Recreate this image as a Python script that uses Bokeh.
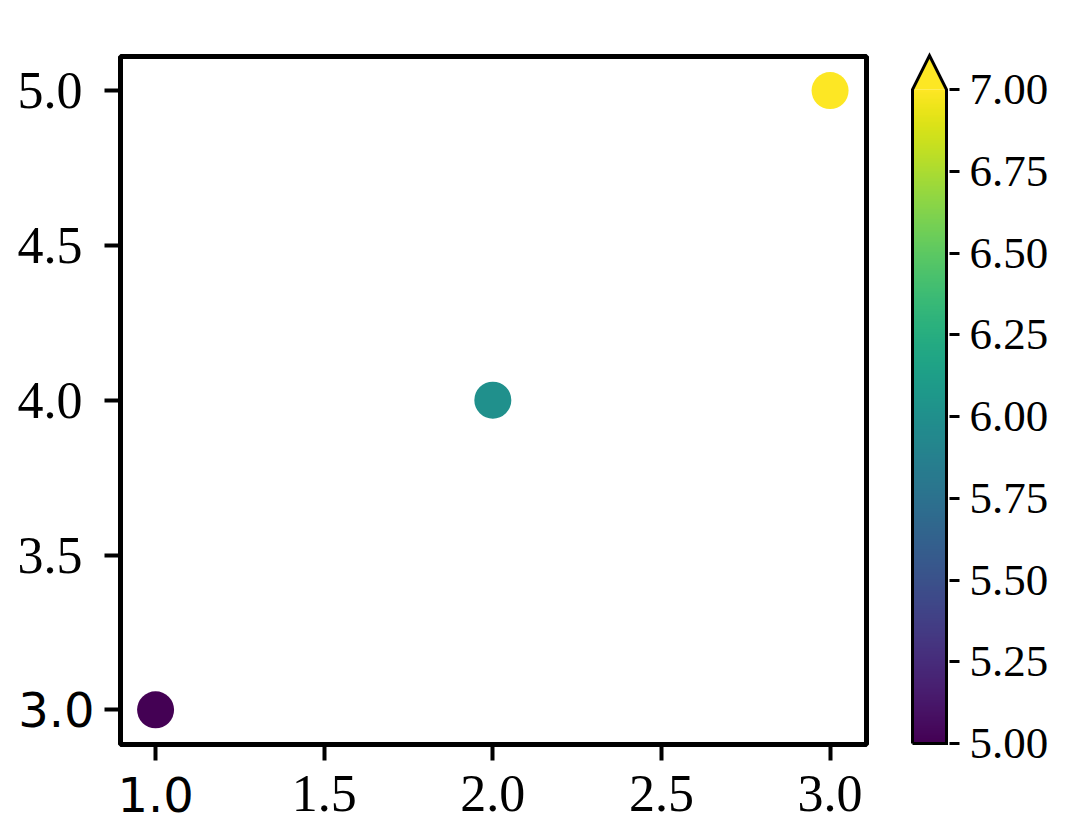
import numpy as np
from bokeh.plotting import figure
from bokeh.layouts import row
from bokeh.models import (Range1d, FixedTicker, PrintfTickFormatter, LinearColorMapper,
                          ColumnDataSource, LinearAxis, BoxAnnotation)
from bokeh.palettes import Viridis256
from bokeh.transform import transform
from bokeh.embed import file_html
from bokeh.resources import INLINE

# ---- data ----
x_vals = [1.0, 2.0, 3.0]
y_vals = [3.0, 4.0, 5.0]
c_vals = [5.0, 6.0, 7.0]
x_ticks = [1.0, 1.5, 2.0, 2.5, 3.0]
y_ticks = [3.0, 3.5, 4.0, 4.5, 5.0]
cb_ticks = [5.0, 5.25, 5.5, 5.75, 6.0, 6.25, 6.5, 6.75, 7.0]
c_low, c_high = 5.0, 7.0
sans_x_tick = 1.0   # tick label drawn in sans font
sans_y_tick = 3.0

SERIF = "Liberation Serif"
SANS = "DejaVu Sans"

mapper = LinearColorMapper(palette=Viridis256, low=c_low, high=c_high)

# ---- main plot: the frame covers the whole canvas, axes are pinned to the data box ----
BL, BT, BW, BH, BR, BB = 120, 56, 746, 688, 12, 80   # box position on the canvas (px)
x0, x1 = 0.896, 3.108
y0, y1 = 2.888, 5.11
kx = BW / (x1 - x0)
ky = BH / (y1 - y0)
W, H = BL + BW + BR, BT + BH + BB
p1 = figure(width=W, height=H, output_backend="svg", toolbar_location=None,
            x_range=Range1d(x0 - BL / kx, x1 + BR / kx),
            y_range=Range1d(y0 - BB / ky, y1 + BT / ky),
            x_axis_location=None, y_axis_location=None,
            min_border_left=0, min_border_right=0, min_border_top=0, min_border_bottom=0)
p1.grid.visible = False
p1.outline_line_color = None
p1.background_fill_color = "white"
p1.border_fill_color = "white"

src = ColumnDataSource(dict(x=x_vals, y=y_vals, c=c_vals))
p1.scatter("x", "y", source=src, size=37, fill_color=transform("c", mapper), line_color=None)

p1.add_layout(BoxAnnotation(left=x0, right=x1, bottom=y0, top=y1, fill_color=None,
                            line_color="black", line_alpha=1.0, line_width=5))


def make_axis(ticks, loc, font, size, standoff, overrides, draw_ticks):
    ax = LinearAxis(ticker=FixedTicker(ticks=ticks, minor_ticks=[]),
                    formatter=PrintfTickFormatter(format="%.1f"), fixed_location=loc)
    ax.major_label_overrides = overrides
    ax.axis_line_color = None
    ax.major_tick_out = 16
    ax.major_tick_in = 0
    ax.major_tick_line_width = 4
    ax.major_tick_line_color = "black" if draw_ticks else None
    ax.minor_tick_line_color = None
    ax.major_label_text_font = font
    ax.major_label_text_font_size = size
    ax.major_label_text_color = "black"
    ax.major_label_standoff = standoff
    return ax


p1.add_layout(make_axis(x_ticks, y0, SERIF, "52px", 15, {sans_x_tick: ""}, True), "below")
p1.add_layout(make_axis([sans_x_tick], y0, SANS, "48px", 16, {}, False), "below")
p1.add_layout(make_axis(y_ticks, x0, SERIF, "52px", 22, {sans_y_tick: ""}, True), "left")
p1.add_layout(make_axis([sans_y_tick], x0, SANS, "48px", 10, {}, False), "left")

# ---- colorbar (frame spans the full height too, so both plots line up) ----
CB_TOP, CB_BOT = 89, 743     # canvas rows of c_high and c_low
px_per_unit = (CB_BOT - CB_TOP) / (c_high - c_low)
pad = 3.0
ext = 34.0 / px_per_unit  # arrow length for extend='max'
p2 = figure(width=176, height=H, output_backend="svg", toolbar_location=None,
            x_range=Range1d(-pad / 34.0, 1 + pad / 34.0),
            y_range=Range1d(c_low - (H - CB_BOT) / px_per_unit, c_high + CB_TOP / px_per_unit),
            y_axis_location="right",
            min_border_left=31, min_border_right=105, min_border_top=0, min_border_bottom=0)
p2.grid.visible = False
p2.outline_line_color = None
p2.xaxis.visible = False
p2.border_fill_color = "white"

grad = np.linspace(c_low, c_high, 256).reshape(-1, 1)
p2.image(image=[grad], x=0, y=c_low, dw=1, dh=c_high - c_low, color_mapper=mapper)
p2.patch([0, 0.5, 1], [c_high, c_high + ext, c_high], fill_color=Viridis256[-1], line_color=None)
p2.line([0, 0, 0.5, 1, 1, 0], [c_low, c_high, c_high + ext, c_high, c_low, c_low],
        line_color="black", line_width=3, line_join="miter")

ay = p2.yaxis[0]
ay.ticker = FixedTicker(ticks=cb_ticks, minor_ticks=[])
ay.formatter = PrintfTickFormatter(format="%.2f")
ay.axis_line_color = None
ay.major_tick_out = 10
ay.major_tick_in = 0
ay.major_tick_line_width = 3
ay.minor_tick_line_color = None
ay.major_label_text_font = SERIF
ay.major_label_text_font_size = "45px"
ay.major_label_standoff = 10
ay.major_label_text_color = "black"

layout = row(p1, p2)
open("out.html", "w").write(file_html(layout, INLINE))
